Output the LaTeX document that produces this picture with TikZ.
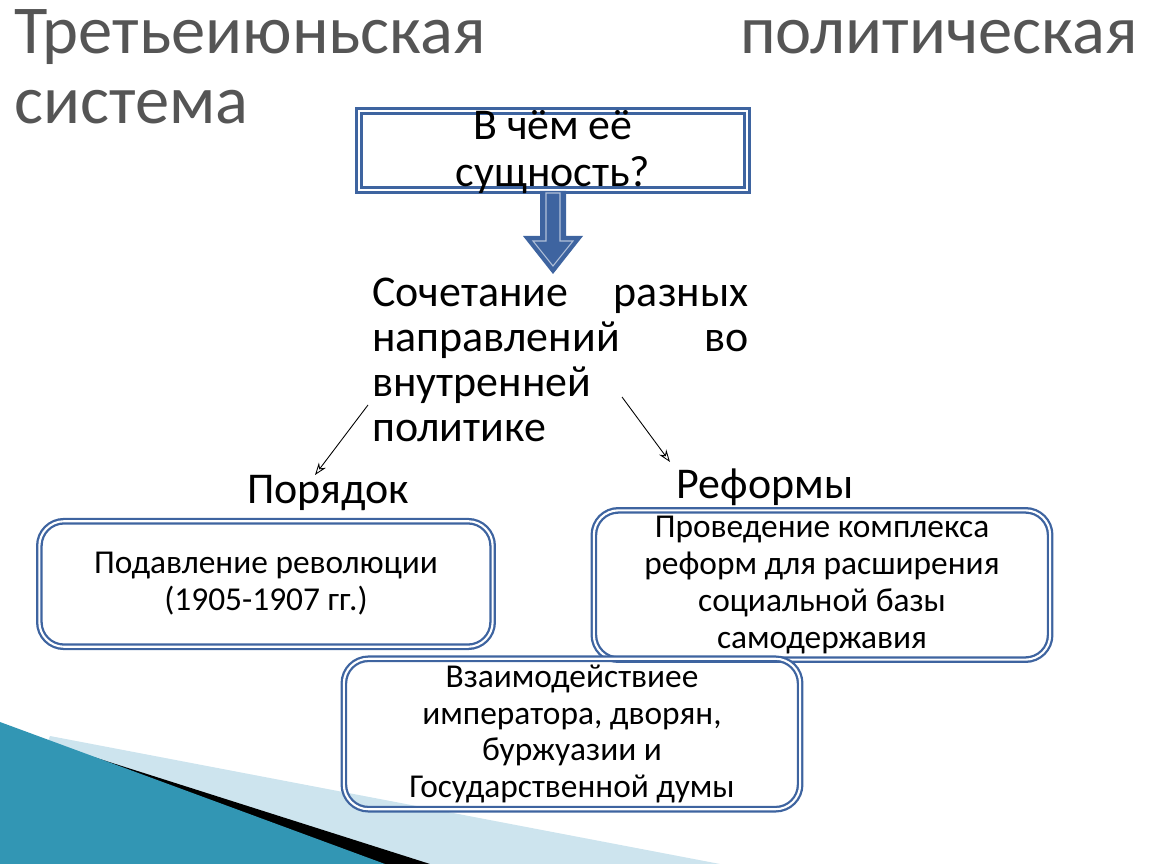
\documentclass[tikz,border=0pt]{standalone}
\usepackage{fontspec}
\setmainfont{Carlito}
\usetikzlibrary{arrows.meta}
\definecolor{bblue}{RGB}{62,100,160}
\definecolor{teal1}{RGB}{50,150,180}
\definecolor{lblue}{RGB}{205,228,238}
\definecolor{tgray}{RGB}{85,85,85}
\begin{document}
\begin{tikzpicture}[x=0.02cm,y=-0.02cm,
 box/.style={draw=bblue,line width=1.3pt,double=white,double distance=1.2pt,rounded corners=14pt,align=center,font=\fontsize{19}{21}\selectfont},
 lbl/.style={font=\fontsize{25}{28}\selectfont},
 ttl/.style={text=tgray,font=\fontsize{39}{42}\selectfont,inner sep=0},
 thin/.style={-{Stealth[length=7pt,width=5pt,open]},line width=0.5pt,draw=black}]
\useasboundingbox (0,0) rectangle (1150,864);
% decoration
\fill[lblue] (50,736) -- (720,864) -- (0,864) -- cycle;
\fill[black] (40,740) -- (430,864) -- (0,864) -- cycle;
\fill[teal1] (0,722) -- (385,864) -- (0,864) -- cycle;
% title
\node[ttl,anchor=base west] (t1) at (14,54) {Третьеиюньская};
\node[ttl,anchor=base east] (t2) at (1138,54) {политическая};
\node[ttl,anchor=base west] (t3) at (14,124) {система};
% top box
\draw[draw=bblue,line width=1.6pt,double=white,double distance=1.2pt] (359,111) rectangle (747,190);
\node[font=\fontsize{25}{27}\selectfont,align=center] (qt) at (553,152) {В чём её\\сущность?};
% block arrow
\fill[bblue] (540,191) -- (566,191) -- (566,236) -- (583,236) -- (553,274) -- (523,236) -- (540,236) -- cycle;
\draw[white!60!bblue,line width=0.6pt] (546,193) -- (560,193) -- (560,241) -- (573,241) -- (553,266) -- (533,241) -- (546,241) -- cycle;
% main text
\node[anchor=north west,inner sep=0,align=left,font=\fontsize{25}{25.5}\selectfont] (m) at (372,278) {\makebox[214pt][s]{Сочетание\hfill разных}\\\makebox[214pt][s]{направлений\hfill во}\\внутренней\\политике};
\coordinate (a1) at (368,405);
\coordinate (a2) at (622,397);
\coordinate (e1) at (315,475);
\coordinate (e2) at (670,462);
\node[lbl] (p) at (328,493) {Порядок};
\node[lbl] (r) at (765,487) {Реформы};
\draw[thin] (a1) -- (e1);
\draw[thin] (a2) -- (e2);
% boxes
\node[box,minimum width=455*0.567pt,minimum height=126*0.567pt] (b1) at (266,584) {Подавление революции\\(1905-1907 гг.)};
\node[box,minimum width=458*0.567pt,minimum height=128*0.567pt] (b2) at (822,585) {Проведение комплекса\\реформ для расширения\\социальной базы\\самодержавия};
\node[box,minimum width=458*0.567pt,minimum height=151*0.567pt] (b3) at (572,734) {Взаимодействиее\\императора, дворян,\\буржуазии и\\Государственной думы};
\end{tikzpicture}
\end{document}
